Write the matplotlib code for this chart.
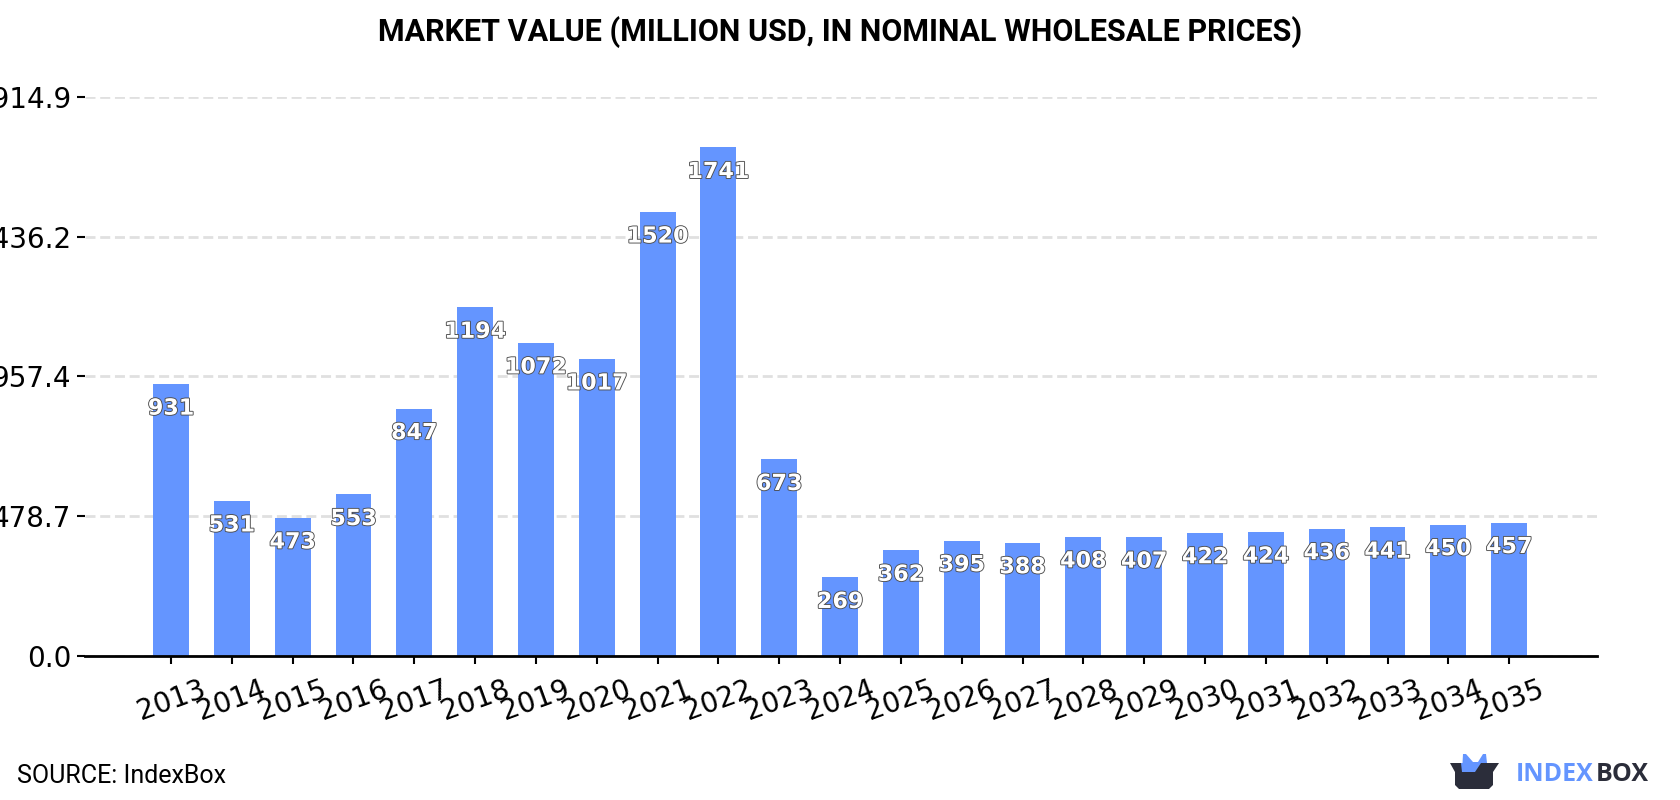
import matplotlib
matplotlib.use("Agg")
import matplotlib.pyplot as plt
import matplotlib.patheffects as pe
from matplotlib.patches import Polygon

years = list(range(2013, 2036))
values = [931, 531, 473, 553, 847, 1194, 1072, 1017, 1520, 1741, 673, 269,
          362, 395, 388, 408, 407, 422, 424, 436, 441, 450, 457]
tick_values = [0.0, 478.7, 957.4, 1436.2, 1914.9]
tick_labels = ["0.0", "478.7", "957.4", "1436.2", "1914.9"]

BLUE = "#6495ff"
DARK = "#2b2d3a"

fig = plt.figure(figsize=(16.8, 8.0), dpi=100)
ax = fig.add_axes([85 / 1680, 1 - 656 / 800, (1596.5 - 85) / 1680, (656 - 96.7) / 800])

ax.bar(range(len(years)), values, width=0.59, color=BLUE, zorder=2)
ax.set_xlim(-1.414, 23.436)
ax.set_ylim(0, 1914.9)

for i, v in enumerate(values):
    ax.annotate(str(v), (i, v), xytext=(0, -22), textcoords="offset points",
                ha="center", va="baseline", color="white", fontsize=16,
                fontweight="bold", family="DejaVu Sans", zorder=4,
                path_effects=[pe.withStroke(linewidth=1.3, foreground="#4d4d4d")])

ax.set_yticks(tick_values, tick_labels, fontsize=20, family="DejaVu Sans")
ax.set_xticks(range(len(years)), years, fontsize=20, rotation=20, family="DejaVu Sans")
ax.tick_params(axis="both", length=6, width=1.5, color="black")
ax.tick_params(axis="y", pad=4)
ax.tick_params(axis="x", pad=8)
ax.grid(axis="y", color="#e0e0e0", linestyle=(0, (3.6, 1.7)), linewidth=2, zorder=0)
ax.set_axisbelow(True)
for side in ("top", "right", "left"):
    ax.spines[side].set_visible(False)
ax.spines["bottom"].set_linewidth(2)

fig.text(0.5, 1 - 32 / 800, "MARKET VALUE (MILLION USD, IN NOMINAL WHOLESALE PRICES)",
         ha="center", va="center", fontsize=22, fontweight="bold", family="Roboto")
fig.text(17 / 1680, 1 - 776 / 800, "SOURCE: IndexBox", ha="left", va="center",
         fontsize=18, family="Roboto")

# Brand mark in the lower right corner, drawn in figure pixels
def px(points):
    return [(x / 1680, 1 - y / 800) for x, y in points]

fig.add_artist(Polygon(px([(1462, 772), (1463, 754), (1466, 754), (1473, 762), (1478, 762),
                           (1483, 754), (1486, 754), (1488, 772)]),
                       closed=True, color=BLUE, transform=fig.transFigure, lw=0))
fig.add_artist(Polygon(px([(1450, 763), (1499, 763), (1493, 772), (1493, 785), (1489, 789),
                           (1459, 789), (1455, 785), (1455, 772)]),
                       closed=True, color=DARK, transform=fig.transFigure, lw=0))
fig.add_artist(Polygon(px([(1461, 763), (1481, 763), (1475, 772), (1462, 772)]),
                       closed=True, color=BLUE, transform=fig.transFigure, lw=0))
fig.text(1516 / 1680, 1 - 774.5 / 800, "INDEX", ha="left", va="center",
         fontsize=18, fontweight="bold", family="Open Sans", color=BLUE)
fig.text(1596 / 1680, 1 - 774.5 / 800, "BOX", ha="left", va="center",
         fontsize=18, fontweight="bold", family="Open Sans", color=DARK)

fig.savefig("out.png", dpi=100)
